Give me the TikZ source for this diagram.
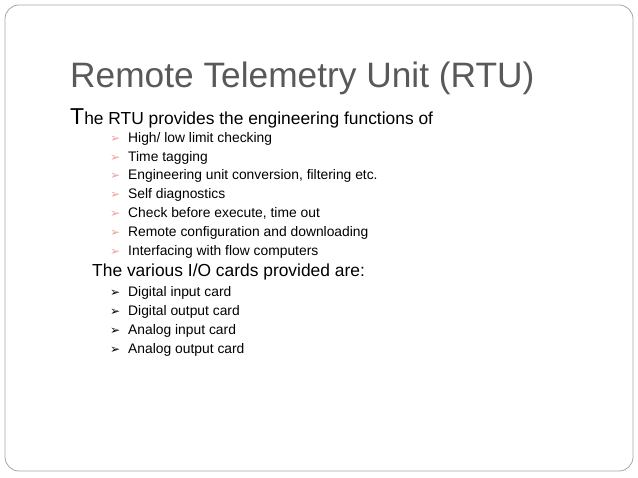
\documentclass[tikz,border=0pt]{standalone}
\usepackage{fontspec}
\setmainfont{Liberation Sans}
\newfontfamily\dejavu{DejaVu Sans}
\definecolor{titlegray}{HTML}{595959}
\definecolor{bulred}{HTML}{E8A0A0}
\begin{document}
\begin{tikzpicture}[x=1pt,y=-1pt,
  txt/.style={anchor=base west,inner sep=0pt,font=\fontsize{13.85}{15}\selectfont},
  bul/.style={anchor=base west,inner sep=0pt,font=\dejavu\fontsize{12}{13}\selectfont}]
\useasboundingbox (0,0) rectangle (638,478);
\draw[gray!70,rounded corners=14pt,line width=0.8pt] (5,5) rectangle (633,471);
\node[anchor=base west,inner sep=0pt,text=titlegray,font=\fontsize{35.3}{40}\selectfont] (title) at (70,88) {Remote Telemetry Unit (RTU)};
\node[anchor=base west,inner sep=0pt,font=\fontsize{17.4}{18}\selectfont] (intro) at (70,125) {{\fontsize{23}{24}\selectfont T}he RTU provides the engineering functions of};
\foreach \t [count=\i] in {High/ low limit checking,Time tagging,{Engineering unit conversion, filtering etc.},Self diagnostics,{Check before execute, time out},Remote configuration and downloading,Interfacing with flow computers}{
  \node[bul,text=bulred] (b\i) at (110,{123.5+18.8*\i}) {➢};
  \node[txt] (t\i) at (128,{123.5+18.8*\i}) {\t};
}
\node[anchor=base west,inner sep=0pt,font=\fontsize{17.4}{18}\selectfont] (io) at (92,277) {The various I/O cards provided are:};
\foreach \t [count=\i] in {Digital input card,Digital output card,Analog input card,Analog output card}{
  \node[bul] (c\i) at (110,{278+18.9*\i}) {➢};
  \node[txt] (d\i) at (128,{278+18.9*\i}) {\t};
}
\end{tikzpicture}
\end{document}
